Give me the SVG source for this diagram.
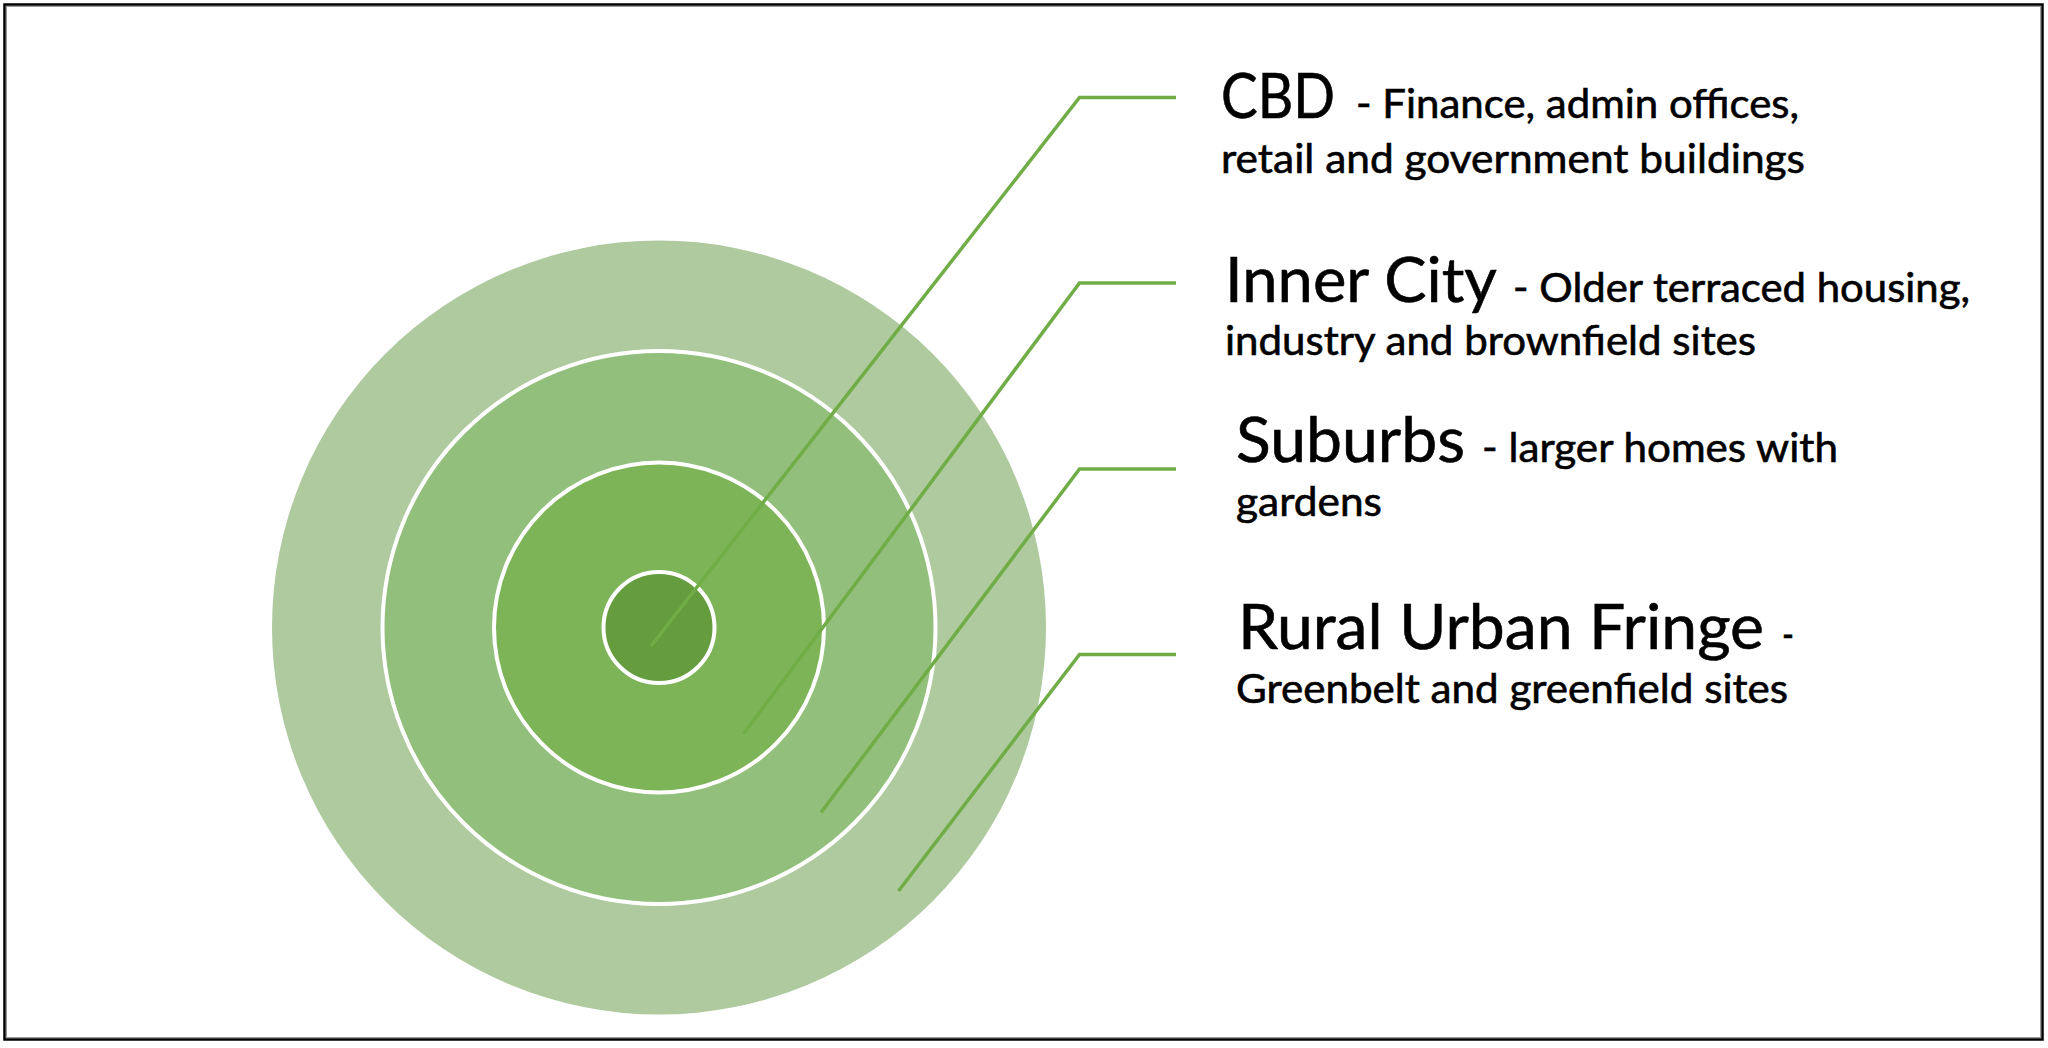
<svg xmlns="http://www.w3.org/2000/svg" width="2048" height="1048" viewBox="0 0 2048 1048">
<style>
.t{font-family:Lato,"Open Sans","Liberation Sans",sans-serif;fill:#000;stroke:#000;stroke-width:0.6;}
.big{font-size:62px;}
.small{font-size:40px;}
.lead{fill:none;stroke:#70AD47;stroke-width:3.5;stroke-linejoin:miter;}
.ring{stroke:#FFFFFF;stroke-width:4;}
</style>
<rect x="0" y="0" width="2048" height="1048" fill="#FFFFFF"/>
<rect id="frame" x="4.5" y="4.5" width="2038" height="1035" fill="none" stroke="#000000" stroke-width="2.5"/>
<rect x="6.5" y="6.5" width="2034" height="1031" fill="none" stroke="#9a9a9a" stroke-width="1"/>
<g id="rural-ring"><circle cx="659" cy="627.5" r="387" fill="#AECA9E"/></g>
<g id="suburbs-ring"><circle class="ring" cx="659" cy="627.5" r="276.5" fill="#93BF7C"/></g>
<g id="inner-city-ring"><circle class="ring" cx="659" cy="627.5" r="165" fill="#7DB457"/></g>
<g id="cbd-core"><circle class="ring" cx="659" cy="627.5" r="55.5" fill="#659C3E"/></g>
<g id="connectors">
<polyline class="lead" points="651,646 1079.5,97.5 1176,97.5"/>
<polyline class="lead" points="743.5,734 1079.5,283 1176,283"/>
<polyline class="lead" points="821,812.5 1079.5,469 1176,469"/>
<polyline class="lead" points="898.5,891 1079.5,654.5 1176,654.5"/>
</g>
<g id="label-cbd">
<text class="t big" x="1221" y="118" textLength="114" lengthAdjust="spacingAndGlyphs">CBD</text>
<text class="t small" x="1356" y="118" textLength="443" lengthAdjust="spacingAndGlyphs">- Finance, admin offices,</text>
<text class="t small" x="1221" y="173" textLength="584" lengthAdjust="spacingAndGlyphs">retail and government buildings</text>
</g>
<g id="label-inner-city">
<text class="t big" x="1225" y="302" textLength="272" lengthAdjust="spacingAndGlyphs">Inner City</text>
<text class="t small" x="1513" y="302" textLength="457" lengthAdjust="spacingAndGlyphs">- Older terraced housing,</text>
<text class="t small" x="1225" y="355" textLength="531" lengthAdjust="spacingAndGlyphs">industry and brownfield sites</text>
</g>
<g id="label-suburbs">
<text class="t big" x="1236" y="462" textLength="229" lengthAdjust="spacingAndGlyphs">Suburbs</text>
<text class="t small" x="1482" y="462" textLength="356" lengthAdjust="spacingAndGlyphs">- larger homes with</text>
<text class="t small" x="1236" y="516" textLength="146" lengthAdjust="spacingAndGlyphs">gardens</text>
</g>
<g id="label-rural">
<text class="t big" x="1238" y="649" textLength="526" lengthAdjust="spacingAndGlyphs">Rural Urban Fringe</text>
<text class="t small" x="1782" y="649" textLength="12" lengthAdjust="spacingAndGlyphs">-</text>
<text class="t small" x="1236" y="703" textLength="552" lengthAdjust="spacingAndGlyphs">Greenbelt and greenfield sites</text>
</g>
</svg>
